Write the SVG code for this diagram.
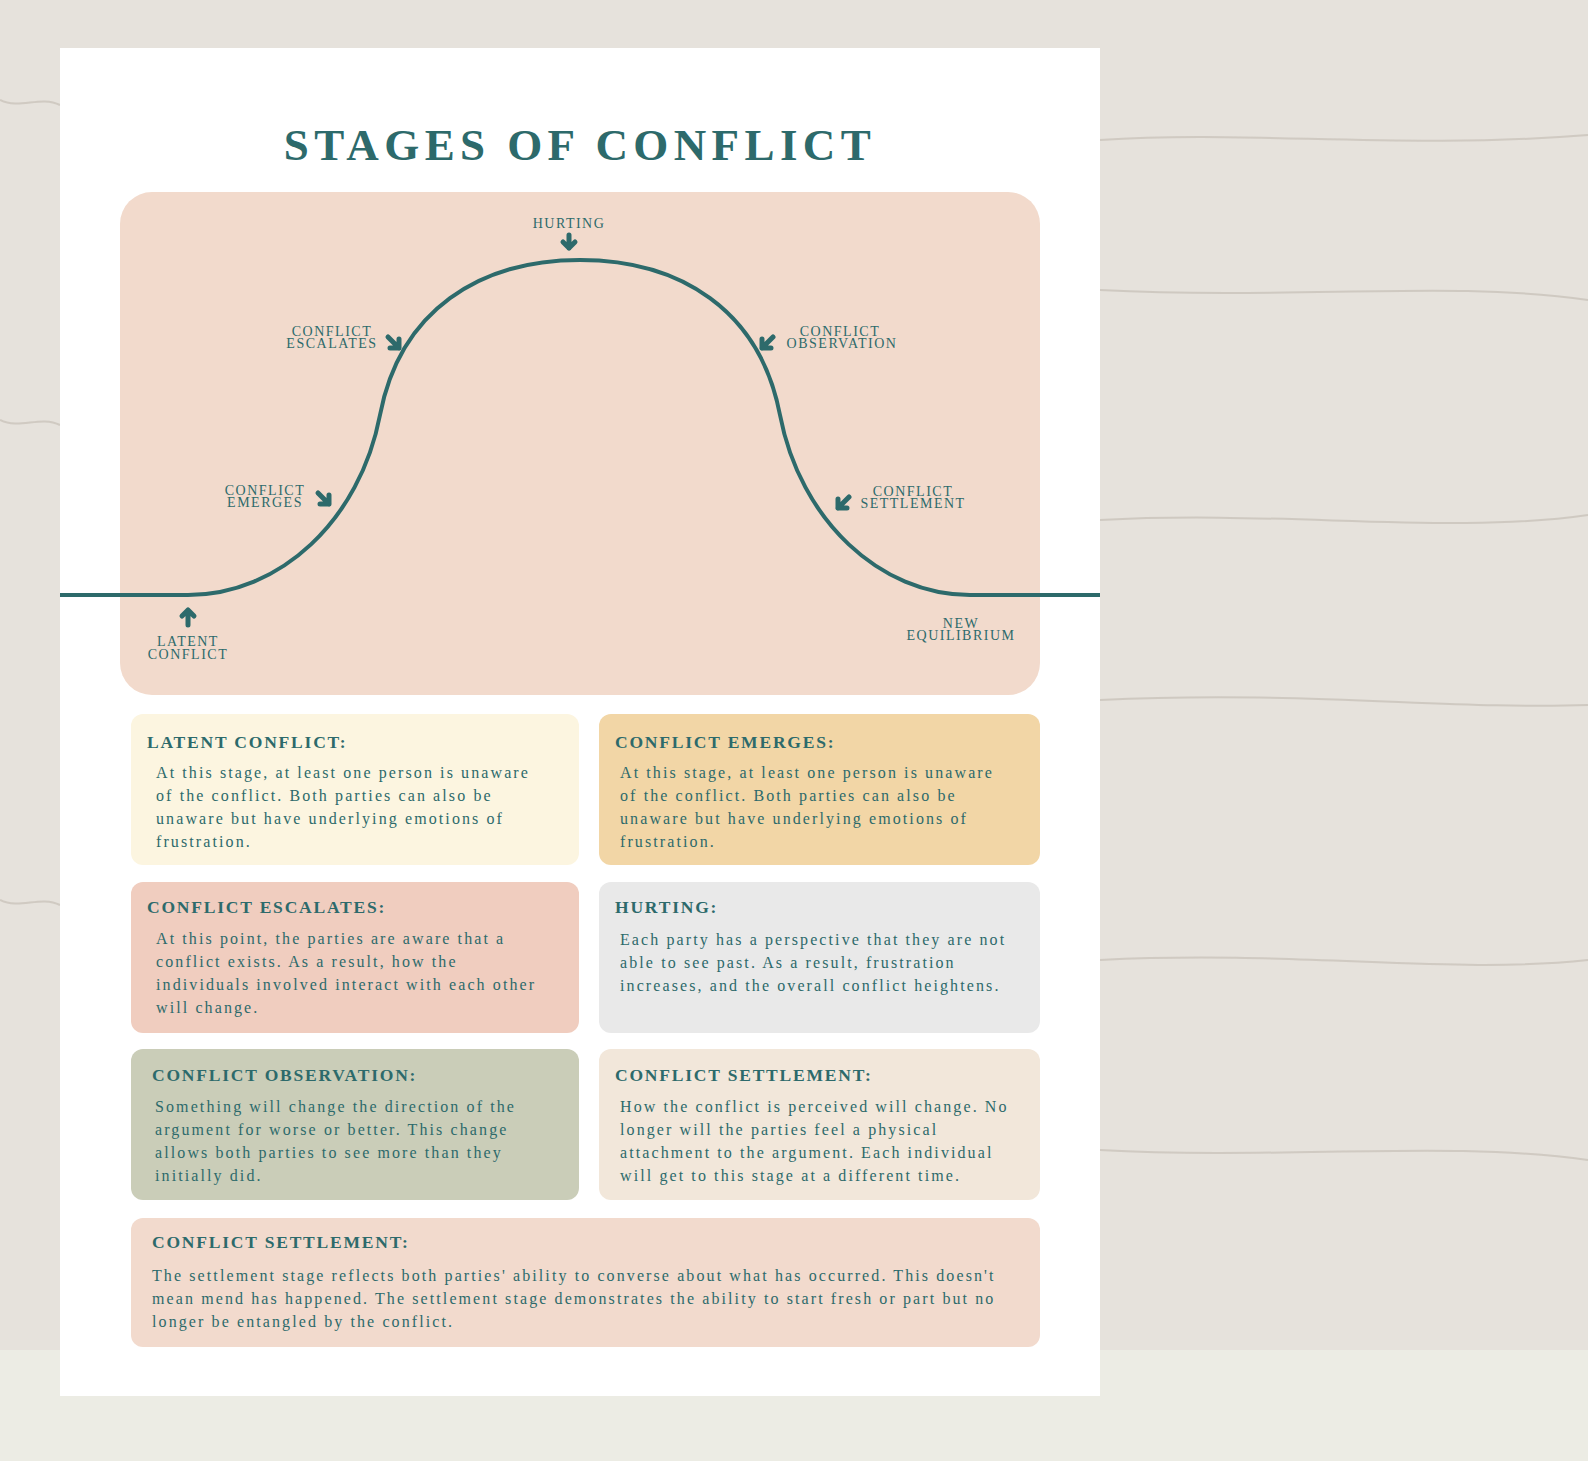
<svg xmlns="http://www.w3.org/2000/svg" width="1588" height="1461" viewBox="0 0 1588 1461">
<style>
text{font-family:"Liberation Serif","DejaVu Serif",serif;fill:#2d6a6b}
.t{font-size:45px;font-weight:bold;letter-spacing:5.4px}
.lb{font-size:14px;letter-spacing:1.5px}
.h{font-size:17.5px;font-weight:bold;letter-spacing:1.8px}
.b{font-size:16px;letter-spacing:2.1px}
.ar{fill:none;stroke:#2d6a6b;stroke-width:5;stroke-linecap:round;stroke-linejoin:round}
.streak{stroke:#b9b2a8;stroke-width:2;fill:none;opacity:.5}
</style>
<rect width="1588" height="1461" fill="#e6e2dc"/>
<g class="streak">
<path d="M1100 140 C1250 130 1400 150 1588 135"/><path d="M1100 290 C1300 300 1450 280 1588 300"/>
<path d="M1100 520 C1280 510 1450 535 1588 515"/><path d="M1100 700 C1300 690 1450 710 1588 705"/>
<path d="M1100 960 C1300 950 1450 975 1588 960"/><path d="M1100 1150 C1280 1160 1450 1140 1588 1160"/>
<path d="M0 100 C20 110 40 95 60 105"/><path d="M0 420 C20 430 40 415 60 425"/><path d="M0 900 C20 910 40 895 60 905"/>
</g>
<rect x="0" y="1350" width="1588" height="111" fill="#ecece4"/>
<rect x="60" y="48" width="1040" height="1348" fill="#ffffff"/>
<text class="t" x="580" y="160" text-anchor="middle">STAGES OF CONFLICT</text>
<g id="chart">
<rect x="120" y="192" width="920" height="503" rx="32" fill="#f2dacc"/>
</g>
<g id="connectors">
<path d="M60 595 H188 C280 595 360 520 380 415 C400 310 480 260 580 260 C680 260 760 310 780 415 C800 520 880 595 970 595 H1100" fill="none" stroke="#2d6a6b" stroke-width="4"/>
<path class="ar" d="M569 235 V248 M563 242 L569 248 L575 242"/>
<path class="ar" d="M388 337 L399 348 M390 348 H399 V339"/>
<path class="ar" d="M318 493 L329 504 M320 504 H329 V495"/>
<path class="ar" d="M773 337 L762 348 M771 348 H762 V339"/>
<path class="ar" d="M849 497 L838 508 M847 508 H838 V499"/>
<path class="ar" d="M188 625 V610 M182 616 L188 610 L194 616"/>
</g>
<g id="labels">
<text class="lb" x="569" y="228" text-anchor="middle">HURTING</text>
<text class="lb" x="332" y="336" text-anchor="middle">CONFLICT</text><text class="lb" x="332" y="348" text-anchor="middle">ESCALATES</text>
<text class="lb" x="265" y="495" text-anchor="middle">CONFLICT</text><text class="lb" x="265" y="507" text-anchor="middle">EMERGES</text>
<text class="lb" x="840" y="336" text-anchor="middle">CONFLICT</text><text class="lb" x="842" y="348" text-anchor="middle">OBSERVATION</text>
<text class="lb" x="913" y="496" text-anchor="middle">CONFLICT</text><text class="lb" x="913" y="508" text-anchor="middle">SETTLEMENT</text>
<text class="lb" x="188" y="646" text-anchor="middle">LATENT</text><text class="lb" x="188" y="659" text-anchor="middle">CONFLICT</text>
<text class="lb" x="961" y="628" text-anchor="middle">NEW</text><text class="lb" x="961" y="640" text-anchor="middle">EQUILIBRIUM</text>
</g>
<g id="latent">
<rect x="131" y="714" width="448" height="151" rx="12" fill="#fcf5e0"/>
<text class="h" x="147" y="748">LATENT CONFLICT:</text>
<text class="b" x="156" y="778">At this stage, at least one person is unaware</text>
<text class="b" x="156" y="801">of the conflict. Both parties can also be</text>
<text class="b" x="156" y="824">unaware but have underlying emotions of</text>
<text class="b" x="156" y="847">frustration.</text>
</g>
<g id="emerges">
<rect x="599" y="714" width="441" height="151" rx="12" fill="#f2d6a6"/>
<text class="h" x="615" y="748">CONFLICT EMERGES:</text>
<text class="b" x="620" y="778">At this stage, at least one person is unaware</text>
<text class="b" x="620" y="801">of the conflict. Both parties can also be</text>
<text class="b" x="620" y="824">unaware but have underlying emotions of</text>
<text class="b" x="620" y="847">frustration.</text>
</g>
<g id="escalates">
<rect x="131" y="882" width="448" height="151" rx="12" fill="#f0cdbf"/>
<text class="h" x="147" y="913">CONFLICT ESCALATES:</text>
<text class="b" x="156" y="944">At this point, the parties are aware that a</text>
<text class="b" x="156" y="967">conflict exists. As a result, how the</text>
<text class="b" x="156" y="990">individuals involved interact with each other</text>
<text class="b" x="156" y="1013">will change.</text>
</g>
<g id="hurting">
<rect x="599" y="882" width="441" height="151" rx="12" fill="#e9e9e9"/>
<text class="h" x="615" y="913">HURTING:</text>
<text class="b" x="620" y="945">Each party has a perspective that they are not</text>
<text class="b" x="620" y="968">able to see past. As a result, frustration</text>
<text class="b" x="620" y="991">increases, and the overall conflict heightens.</text>
</g>
<g id="observation">
<rect x="131" y="1049" width="448" height="151" rx="12" fill="#cacdb8"/>
<text class="h" x="152" y="1081">CONFLICT OBSERVATION:</text>
<text class="b" x="155" y="1112">Something will change the direction of the</text>
<text class="b" x="155" y="1135">argument for worse or better. This change</text>
<text class="b" x="155" y="1158">allows both parties to see more than they</text>
<text class="b" x="155" y="1181">initially did.</text>
</g>
<g id="settlement">
<rect x="599" y="1049" width="441" height="151" rx="12" fill="#f2e7da"/>
<text class="h" x="615" y="1081">CONFLICT SETTLEMENT:</text>
<text class="b" x="620" y="1112">How the conflict is perceived will change. No</text>
<text class="b" x="620" y="1135">longer will the parties feel a physical</text>
<text class="b" x="620" y="1158">attachment to the argument. Each individual</text>
<text class="b" x="620" y="1181">will get to this stage at a different time.</text>
</g>
<g id="settlement2">
<rect x="131" y="1218" width="909" height="129" rx="12" fill="#f2dacd"/>
<text class="h" x="152" y="1248">CONFLICT SETTLEMENT:</text>
<text class="b" x="152" y="1281">The settlement stage reflects both parties' ability to converse about what has occurred. This doesn't</text>
<text class="b" x="152" y="1304">mean mend has happened. The settlement stage demonstrates the ability to start fresh or part but no</text>
<text class="b" x="152" y="1327">longer be entangled by the conflict.</text>
</g>
</svg>
